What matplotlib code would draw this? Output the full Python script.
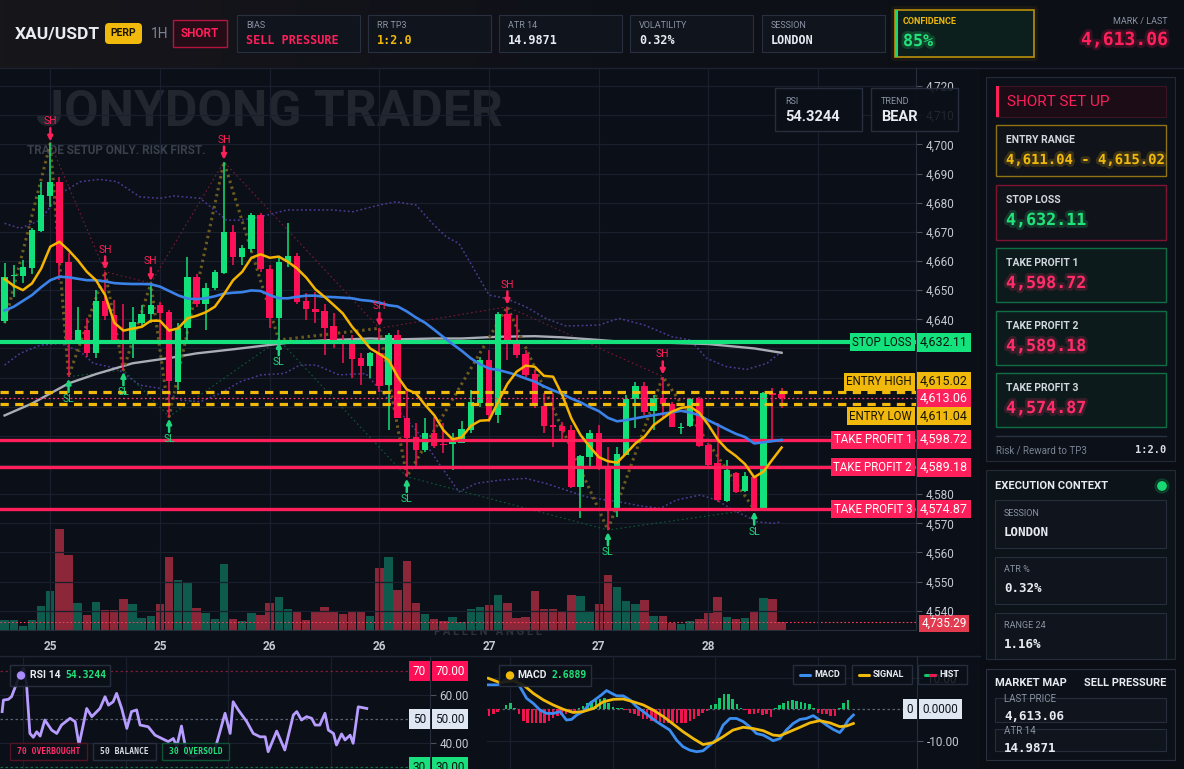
import numpy as np
import matplotlib
matplotlib.use('Agg')
import matplotlib.pyplot as plt
import matplotlib.transforms as mtransforms
import matplotlib.patheffects as pe
from matplotlib.patches import Rectangle, FancyBboxPatch, Circle
from matplotlib.colors import LinearSegmentedColormap

SANS = ['Roboto', 'DejaVu Sans']
MONO = ['DejaVu Sans Mono']
plt.rcParams['font.family'] = SANS

BG = '#0a0d14'
PANEL = '#0b0f17'
GRID = '#191f2c'
EDGE = '#262e3b'
UP = '#12e07a'
DOWN = '#ff0f55'
RED = '#ff1f5a'
YEL = '#f0b90b'
GRN = '#22e27a'
TXT = '#c3c8d2'
DIM = '#8a93a3'
WHITE = '#e8ecf2'

# ---- 1H candles, XAU/USDT ----
opn = [4639.5, 4654.9, 4654.9, 4657.7, 4670.4, 4682.4, 4687.2, 4659.5, 4632.1, 4636.3,
       4628.5, 4646.2, 4641.5, 4632.9, 4632.9, 4638.6, 4641.8, 4644.9, 4642.6, 4618.6,
       4636.9, 4654.6, 4645.4, 4650.6, 4656.0, 4670.0, 4661.5, 4664.0, 4675.8, 4657.4,
       4640.6, 4659.7, 4661.7, 4646.3, 4643.5, 4642.8, 4637.7, 4632.5, 4631.5, 4626.7,
       4624.1, 4628.4, 4617.4, 4634.6, 4606.3, 4599.5, 4595.1, 4600.9, 4597.1, 4597.1,
       4597.6, 4602.0, 4611.4, 4626.0, 4607.1, 4641.8, 4632.3, 4628.1, 4621.2, 4610.3,
       4603.6, 4603.4, 4602.0, 4582.6, 4592.8, 4600.9, 4589.4, 4575.1, 4593.6, 4612.5,
       4617.1, 4608.5, 4613.1, 4611.1, 4602.7, 4603.4, 4612.5, 4596.7, 4590.8, 4577.7,
       4587.4, 4581.2, 4586.0, 4575.1, 4614.6, 4614.2]
high = [4659.2, 4658.6, 4660.3, 4671.2, 4687.2, 4700.3, 4688.9, 4662.6, 4644.3, 4640.3,
        4650.0, 4656.3, 4646.6, 4645.4, 4644.3, 4644.9, 4652.4, 4646.0, 4643.2, 4638.6,
        4661.5, 4655.7, 4652.3, 4656.9, 4694.0, 4672.3, 4665.5, 4676.3, 4676.3, 4658.6,
        4661.5, 4672.9, 4662.6, 4648.9, 4649.4, 4645.1, 4642.0, 4634.6, 4634.6, 4628.3,
        4628.9, 4636.9, 4635.2, 4636.3, 4616.3, 4604.3, 4606.0, 4606.6, 4604.3, 4600.9,
        4605.1, 4615.7, 4627.2, 4629.4, 4642.6, 4644.3, 4641.4, 4629.4, 4622.6, 4614.6,
        4614.6, 4604.9, 4603.7, 4593.4, 4602.0, 4603.7, 4596.3, 4596.3, 4614.0, 4618.6,
        4618.6, 4614.0, 4620.3, 4611.7, 4604.3, 4612.9, 4613.2, 4597.4, 4604.3, 4591.7,
        4587.7, 4587.7, 4586.2, 4615.1, 4616.3, 4616.3]
low = [4638.6, 4647.7, 4652.3, 4655.7, 4670.0, 4678.6, 4653.4, 4620.3, 4631.7, 4627.2,
       4626.6, 4639.7, 4631.7, 4622.6, 4626.6, 4637.4, 4638.6, 4632.9, 4606.6, 4615.7,
       4632.9, 4644.3, 4636.3, 4650.0, 4655.7, 4658.6, 4658.6, 4663.2, 4656.3, 4636.9,
       4632.9, 4658.0, 4645.4, 4639.7, 4638.6, 4627.7, 4630.0, 4624.9, 4619.7, 4617.4,
       4619.7, 4615.1, 4602.0, 4606.0, 4586.0, 4589.4, 4594.6, 4595.7, 4594.0, 4588.3,
       4597.4, 4600.9, 4610.0, 4604.9, 4604.5, 4626.0, 4626.6, 4620.3, 4609.4, 4600.9,
       4596.3, 4598.0, 4582.0, 4571.7, 4589.4, 4588.3, 4567.7, 4572.3, 4593.4, 4602.6,
       4607.1, 4602.0, 4606.6, 4602.9, 4600.6, 4603.1, 4596.3, 4589.6, 4577.4, 4577.2,
       4580.3, 4580.8, 4574.8, 4574.8, 4598.6, 4609.4]
close = [4654.6, 4655.2, 4657.8, 4670.6, 4682.6, 4687.2, 4659.4, 4632.1, 4636.3, 4628.5,
         4646.2, 4641.2, 4632.3, 4632.5, 4639.2, 4641.8, 4644.9, 4642.3, 4618.9, 4636.9,
         4654.6, 4645.4, 4650.6, 4656.3, 4670.0, 4661.5, 4664.3, 4675.8, 4657.4, 4640.6,
         4659.7, 4661.7, 4646.0, 4643.5, 4642.6, 4637.1, 4632.3, 4631.4, 4626.3, 4624.1,
         4628.4, 4617.2, 4634.6, 4606.3, 4599.4, 4595.1, 4600.9, 4596.5, 4596.7, 4597.8,
         4602.2, 4611.5, 4626.0, 4607.1, 4641.8, 4631.7, 4627.7, 4620.9, 4610.3, 4603.4,
         4603.1, 4601.7, 4582.6, 4593.2, 4600.9, 4588.8, 4574.5, 4593.8, 4612.5, 4617.1,
         4608.3, 4613.1, 4611.1, 4603.1, 4603.0, 4612.5, 4596.5, 4590.0, 4578.0, 4588.3,
         4580.8, 4586.2, 4575.1, 4614.6, 4614.0, 4613.06]
vol = [30, 30, 12, 30, 72, 117, 303, 225, 81, 45, 84, 60, 60, 93, 78, 36, 42, 78, 219, 150,
       142, 66, 51, 33, 198, 33, 27, 51, 45, 81, 99, 63, 54, 30, 57, 69, 57, 48, 54, 54,
       42, 186, 219, 120, 207, 81, 48, 33, 27, 39, 24, 63, 69, 75, 105, 81, 36, 39, 117, 63,
       63, 54, 105, 102, 54, 78, 165, 129, 87, 78, 90, 42, 42, 21, 18, 27, 33, 51, 99, 39,
       33, 36, 57, 96, 93, 24]

ema_fast = [4653.8, 4651.5, 4650.0, 4652.3, 4657.4, 4664.9, 4666.6, 4663.7, 4660.3, 4656.3,
            4653.4, 4648.3, 4638.8, 4636.1, 4636.8, 4637.4, 4639.5, 4639.5, 4636.1, 4636.9,
            4640.3, 4641.2, 4642.4, 4644.3, 4648.6, 4653.4, 4656.3, 4661.1, 4662.3, 4661.1,
            4661.5, 4659.7, 4657.4, 4654.3, 4650.3, 4647.7, 4644.9, 4642.0, 4637.5, 4633.8,
            4630.0, 4628.1, 4626.0, 4620.3, 4615.9, 4614.6, 4610.6, 4607.1, 4602.0, 4598.8,
            4599.5, 4603.4, 4605.2, 4605.4, 4611.7, 4617.8, 4622.0, 4624.1, 4623.7, 4620.6,
            4620.3, 4614.0, 4606.0, 4600.3, 4596.3, 4592.7, 4591.3, 4590.8, 4594.0, 4597.4,
            4599.7, 4603.7, 4606.0, 4608.3, 4609.6, 4610.0, 4607.9, 4603.7, 4598.8, 4595.4,
            4593.1, 4590.3, 4585.8, 4587.7, 4591.9, 4596.0]
ema_slow = [4643.0, 4644.3, 4646.3, 4648.3, 4651.0, 4653.4, 4654.6, 4654.4, 4653.9, 4653.4,
            4653.4, 4653.0, 4652.4, 4652.2, 4652.1, 4652.1, 4652.0, 4651.2, 4649.7, 4648.2,
            4647.1, 4646.9, 4647.2, 4647.9, 4648.8, 4649.1, 4649.3, 4649.9, 4649.7, 4648.3,
            4647.2, 4647.2, 4647.7, 4648.1, 4648.1, 4647.7, 4647.6, 4647.4, 4647.2, 4646.6,
            4646.3, 4645.7, 4644.8, 4644.4, 4642.7, 4640.6, 4638.8, 4636.4, 4633.9, 4631.5,
            4629.2, 4626.6, 4624.6, 4623.1, 4622.6, 4621.8, 4620.9, 4619.7, 4618.6, 4617.0,
            4615.6, 4614.4, 4612.8, 4611.5, 4609.9, 4608.5, 4606.2, 4605.0, 4605.4, 4606.0,
            4606.6, 4607.1, 4607.6, 4608.1, 4608.6, 4608.0, 4607.1, 4605.3, 4603.8, 4602.2,
            4600.7, 4599.6, 4597.4, 4597.8, 4598.2, 4598.6]
ma_long_x = [0, 3, 7, 10, 14, 18, 21, 25, 29, 32, 36, 40, 43, 47, 50, 54, 58, 61, 65, 67, 72, 77, 82, 85]
ma_long_v = [4607.0, 4611.1, 4618.0, 4621.2, 4624.9, 4626.7, 4628.3, 4629.7, 4631.2, 4632.3, 4632.9, 4633.4,
             4633.1, 4633.4, 4633.4, 4634.0, 4634.2, 4633.8, 4632.9, 4632.4, 4632.0, 4631.5, 4630.0, 4628.5]
band_up_x = [0, 1.7, 3.9, 6.1, 8.3, 10.4, 12.3, 14.8, 17.0, 18.5, 21.4, 24.3, 25.8, 28.0, 30.9, 32.3,
             35.9, 38.1, 41.0, 42.8, 45.0, 46.8, 48.3, 49.7, 51.2, 53.0, 54.8, 57.0, 59.2, 61.4, 65.0,
             67.2, 70, 73, 75, 76.8, 79, 81.2, 83.4, 85]
band_up_v = [4672.9, 4671.2, 4674.0, 4683.2, 4687.2, 4688.0, 4687.2, 4682.0, 4681.5, 4682.3, 4681.5,
             4674.0, 4674.0, 4675.2, 4677.5, 4677.5, 4677.5, 4676.9, 4679.2, 4680.3, 4679.2, 4672.9,
             4668.3, 4666.0, 4658.0, 4648.3, 4647.2, 4644.3, 4640.3, 4637.7, 4638.0, 4640.3, 4638.0,
             4634.0, 4632.9, 4626.6, 4623.7, 4622.8, 4624.9, 4628.9]
band_lo_x = [0, 1.7, 3.9, 6.1, 8.3, 9.7, 12.3, 14.8, 17.0, 19.2, 21.4, 23.6, 25.8, 28.0, 30.6, 32.3,
             34.1, 36.6, 39.5, 42.4, 45.3, 47.5, 49.7, 51.6, 54.1, 57.0, 59.2, 61.4, 63.6, 65.8, 67.2,
             69.5, 71.7, 73.5, 76.1, 77.9, 79.7, 81.2, 82.3, 84.1, 85]
band_lo_v = [4624.3, 4628.3, 4631.1, 4631.7, 4628.9, 4624.9, 4623.1, 4617.4, 4616.3, 4612.3, 4611.7,
             4614.6, 4618.6, 4620.9, 4621.4, 4624.3, 4624.3, 4620.9, 4621.4, 4611.1, 4600.9, 4590.6,
             4580.8, 4583.7, 4584.8, 4585.4, 4583.7, 4581.4, 4579.1, 4578.0, 4577.4, 4576.0, 4575.1,
             4578.0, 4579.7, 4578.0, 4574.5, 4572.3, 4570.5, 4570.0, 4570.5]

swing_high = [5, 11, 16, 24, 41, 55, 72]
swing_low = [7, 13, 18, 30, 44, 66, 82]

# ---- oscillators ----
rsi_x = [0, 0.3, 1.45, 2.2, 3.4, 4.2, 5.0, 5.7, 6.5, 7.3, 8.1, 8.9, 10.0, 11.6, 12.8, 13.9, 15.9, 17.1,
         18.0, 19.8, 21.0, 22.9, 24.1, 24.9, 26.0, 26.8, 28.0, 29.2, 30.3, 31.5, 32.3, 34.2, 35.8, 37.4,
         38.9, 40.1, 40.9, 42.0, 43.2, 44.8, 46.3, 47.9, 49.9, 51.0, 52.2, 53.4, 54.1, 55.3, 57.3, 58.8,
         60.4, 61.6, 62.3, 64.3, 66.2, 68.2, 69.0, 70.1, 71.3, 72.5, 73.3, 74.4, 75.6, 76.4, 77.6, 78.3,
         79.5, 80.3, 81.5, 82.2, 83.4, 85.4]
rsi_v = [53.1, 57.9, 58.2, 59.3, 64.9, 69.3, 71.1, 64.9, 44.0, 42.4, 44.7, 42.9, 49.6, 45.4, 44.0, 47.5,
         50.3, 48.9, 39.2, 54.4, 51.0, 54.4, 59.3, 55.8, 57.2, 60.7, 54.4, 46.1, 53.1, 53.8, 47.5, 46.8,
         43.3, 41.9, 40.6, 41.9, 38.5, 47.1, 35.7, 34.3, 35.7, 37.1, 37.8, 44.7, 52.4, 44.0, 57.2, 53.8,
         48.9, 44.0, 42.6, 42.6, 36.4, 45.0, 37.1, 51.7, 53.1, 49.6, 51.0, 50.3, 47.5, 47.5, 52.4, 45.4,
         44.0, 39.2, 43.8, 41.3, 43.3, 39.9, 55.1, 54.4]
macd_x = [-0.19, 2.15, 3.71, 5.66, 7.22, 8.79, 10.35, 11.9, 13.5, 15.0, 16.6, 18.1, 19.3, 20.5, 22.0,
          23.6, 25.2, 26.3, 27.5, 28.7, 29.9, 31.4, 33.0, 34.5, 36.1, 37.6, 39.2, 40.8, 42.3, 43.9, 45.4,
          47.0, 48.6, 50.1, 51.7, 53.2, 54.8, 56.4, 57.9, 59.5, 61.0, 62.6, 64.2, 65.7, 66.5, 68.1, 69.6,
          71.2, 72.8, 74.3, 75.9, 77.4, 79.0, 80.6, 82.1, 82.9, 84.1, 85.3]
macd_v = [7.8, 7.8, 9.4, 11.0, 7.2, 3.5, 1.9, -0.2, -1.3, -1.3, -0.7, -3.4, -3.2, -1.8, -0.7, 1.9, 3.5,
          4.6, 6.0, 5.1, 4.3, 4.3, 3.0, 0.9, -0.7, -2.3, -3.9, -5.3, -6.6, -9.8, -11.9, -13.0, -13.5,
          -13.2, -11.4, -9.6, -5.0, -2.9, -2.9, -3.9, -5.5, -7.7, -8.2, -9.3, -10.0, -9.3, -6.6, -4.5,
          -3.2, -2.9, -2.0, -3.4, -5.0, -6.4, -7.4, -6.1, -3.4, -1.8]
signal_x = [-0.19, 2.54, 5.66, 8.0, 10.35, 12.7, 15.0, 17.4, 19.7, 22.0, 24.4, 26.7, 29.1, 31.4, 33.8,
            36.1, 38.4, 40.8, 43.1, 45.4, 47.8, 50.1, 52.5, 54.8, 57.1, 59.5, 61.8, 64.2, 66.5, 68.1,
            70.4, 72.8, 75.1, 77.4, 79.8, 82.1, 83.7, 85.3]
signal_v = [9.9, 8.5, 9.1, 7.8, 5.1, 3.0, 1.4, 0.0, -1.0, -0.7, 0.3, 2.4, 3.2, 3.3, 2.4, 1.4, -0.2, -2.3,
            -4.7, -7.1, -9.3, -11.2, -10.6, -8.7, -6.6, -5.7, -6.1, -6.8, -8.2, -8.4, -7.1, -5.7, -4.3,
            -3.6, -4.3, -5.5, -5.3, -4.5]
hist = [-2.1, -1.6, -0.9, 0.2, 1.3, 2.1, 0.5, -1.6, -3.7, -4.5, -4.3, -4.3, -4.5, -4.3, -3.7, -2.7, -2.1,
        -1.9, -1.6, -1.1, -0.5, 0.3, 1.1, 1.9, 2.7, 3.0, 3.2, 3.7, 2.1, 0.9, 0.5, 0.5, -0.3, -1.1, -1.6,
        -2.1, -3.0, -3.2, -3.7, -3.7, -4.0, -4.3, -4.3, -4.5, -4.5, -4.5, -4.3, -3.7, -3.0, -2.1, -1.3,
        -0.5, 1.3, 1.6, 3.7, 4.8, 4.8, 3.2, 1.6, 0.5, -0.2, -1.6, -1.6, -1.3, -1.9, -1.6, -2.3, 0.5, 1.3,
        2.1, 2.7, 3.0, 2.7, 2.3, 2.1, 1.6, 0.5, -1.1, -1.6, -1.6, -2.1, -2.1, 0.5, 1.9, 3.0]

# ---- trade plan ----
stop_loss = 4632.11
entry_high = 4615.02
entry_low = 4611.04
last_price = 4613.06
take_profit = [4598.72, 4589.18, 4574.87]
last_vol_text = '4,735.29'

day_pos = [5, 17, 29, 41, 53, 65, 77, 89]
day_lab = ['25', '25', '26', '26', '27', '27', '28', '']
sub_grid = [5, 29, 53, 77]
hidden_ticks = [4590, 4600, 4610, 4620, 4630]   # sit under the level tags

top_cards = [('BIAS', 'SELL PRESSURE', RED), ('RR TP3', '1:2.0', YEL), ('ATR 14', '14.9871', WHITE),
             ('VOLATILITY', '0.32%', WHITE), ('SESSION', 'LONDON', WHITE)]
exec_cards = [('SESSION', 'LONDON'), ('ATR %', '0.32%'), ('RANGE 24', '1.16%')]
map_cards = [('LAST PRICE', '4,613.06'), ('ATR 14', '14.9871')]

W, H = 1184, 769
fig = plt.figure(figsize=(W / 100, H / 100), dpi=100, facecolor=BG)


def px_axes(x, y, w, h):
    return fig.add_axes([x / W, 1 - (y + h) / H, w / W, h / H])


def rect(a, x, y, w, h, fc, ec='none', lw=0.8, alpha=1.0, z=1, rnd=0):
    if rnd:
        p = FancyBboxPatch((x, y), w, h, boxstyle=f'round,pad=0,rounding_size={rnd}',
                           fc=fc, ec=ec, lw=lw, alpha=alpha, zorder=z)
    else:
        p = Rectangle((x, y), w, h, fc=fc, ec=ec, lw=lw, alpha=alpha, zorder=z)
    a.add_patch(p)


def txt(a, x, y, s, size, color, weight='normal', family=None, ha='left', va='center', glow=False, z=3):
    t = a.text(x, y, s, fontsize=size, color=color, fontweight=weight, fontfamily=family or SANS,
               ha=ha, va=va, zorder=z)
    if glow:
        t.set_path_effects([pe.withStroke(linewidth=4, foreground=color, alpha=0.18)])
    return t


# ---------- background layer (pixel coordinates) ----------
bg = px_axes(0, 0, W, H)
cm = LinearSegmentedColormap.from_list('tb', ['#17161b', '#0f1118', '#0c0f16'])
bg.imshow(np.linspace(0, 1, 256)[None, :], extent=[0, W, 68, 0], aspect='auto', cmap=cm, zorder=0)
bg.set_xlim(0, W)
bg.set_ylim(H, 0)
bg.set_autoscale_on(False)
bg.axis('off')
rect(bg, 0, 68, 980, 701, PANEL, z=0.5)
bg.plot([0, W], [68, 68], color='#1c2230', lw=1)
bg.plot([0, 980], [656, 656], color='#1f2633', lw=1)

# top bar
txt(bg, 15, 34, 'XAU/USDT', 12.5, WHITE, 'bold')
rect(bg, 105, 23, 37, 21, YEL, rnd=4, z=2)
txt(bg, 123.5, 33.5, 'PERP', 7.5, '#1a1400', 'bold', ha='center')
txt(bg, 151, 34, '1H', 10, '#7c8698')
rect(bg, 173, 20, 54, 27, '#250d17', '#b3153f', lw=1, z=2)
txt(bg, 200, 33.5, 'SHORT', 8.5, RED, 'bold', ha='center')
for k, (lab, val, col) in enumerate(top_cards):
    x0 = [237, 368, 499, 630, 762][k]
    rect(bg, x0, 15, 123, 37, '#0f141d', '#283040', z=2)
    txt(bg, x0 + 9, 26, lab, 6.5, DIM)
    txt(bg, x0 + 9, 41, val, 8.5, col, 'bold', MONO)
rect(bg, 891, 6, 147, 55, YEL, alpha=0.06, z=1, rnd=4)
rect(bg, 895, 10, 139, 47, '#0d1f1c', '#b8900c', lw=1.2, z=2)
rect(bg, 895, 10, 3, 47, '#18d873', z=3)
txt(bg, 903, 22, 'CONFIDENCE', 6.5, YEL, 'bold')
txt(bg, 903, 41, '85%', 12, GRN, 'bold', MONO, glow=True)
txt(bg, 1168, 22, 'MARK / LAST', 6.5, DIM, ha='right')
txt(bg, 1168, 40, f'{last_price:,.2f}', 13, RED, 'bold', MONO, ha='right', glow=True)

# right column: setup panel
rect(bg, 986, 77, 189, 384, '#0c1119', '#232b38', z=1)
rect(bg, 996, 86, 170, 31, '#1c0c16', '#3a1424', z=2)
rect(bg, 996, 86, 3, 31, RED, z=3)
txt(bg, 1007, 101.5, 'SHORT SET UP', 11, RED)
setup_cards = [('ENTRY RANGE', f'{entry_low:,.2f} - {entry_high:,.2f}', YEL, '#8f7212', 125, 51, 10),
               ('STOP LOSS', f'{stop_loss:,.2f}', GRN, '#7d1532', 185, 55, 12)]
for k, tp in enumerate(take_profit):
    setup_cards.append((f'TAKE PROFIT {k + 1}', f'{tp:,.2f}', '#ff2d6a', '#0f6e45', [248, 311, 373][k], 54, 12))
for lab, val, col, ec, y0, h0, fs in setup_cards:
    fc = '#0d1a1b' if lab.startswith('TAKE') else '#10131a'
    rect(bg, 996, y0, 170, h0, fc, ec, lw=1, z=2)
    txt(bg, 1006, y0 + 15, lab, 7.5, '#d3d8e0', 'bold')
    txt(bg, 1006, y0 + 35, val, fs, col, 'bold', MONO, glow=True)
bg.plot([996, 1166], [436, 436], color='#2a3242', lw=1)
txt(bg, 996, 450, 'Risk / Reward to TP3', 7, '#7a8394')
txt(bg, 1166, 450, '1:2.0', 7.5, '#d8dde6', 'bold', MONO, ha='right')

# execution context
rect(bg, 986, 470, 189, 189, '#0d1419', '#232b38', z=1)
txt(bg, 995, 486, 'EXECUTION CONTEXT', 8, WHITE, 'bold')
bg.add_patch(Circle((1162, 486), 4.2, color='#18d873', zorder=3))
bg.add_patch(Circle((1162, 486), 7, color='#18d873', alpha=0.15, zorder=2))
for (lab, val), y0, h0 in zip(exec_cards, [500, 557, 613], [48, 47, 46]):
    rect(bg, 995, y0, 171, h0, '#0f141d', '#262e3b', z=2)
    txt(bg, 1004, y0 + 13, lab, 6.5, DIM)
    txt(bg, 1004, y0 + 32, val, 9, WHITE, 'bold', MONO)

# market map
rect(bg, 986, 669, 189, 91, '#0c1119', '#283040', z=1)
txt(bg, 995, 683, 'MARKET MAP', 8, WHITE, 'bold')
txt(bg, 1166, 683, 'SELL PRESSURE', 8, WHITE, 'bold', ha='right')
for (lab, val), y0, h0 in zip(map_cards, [698, 729], [24, 22]):
    rect(bg, 995, y0, 171, h0, '#0f141d', '#262e3b', z=2)
    txt(bg, 1004, y0 + 1.5, lab, 7, DIM)
    txt(bg, 1004, y0 + 19, val, 9, WHITE, 'bold', MONO)

txt(bg, 488, 632, 'F A L L E N   A N G E L', 8, '#2c313b', 'bold', ha='center')

# ---------- main chart ----------
idx = np.arange(len(close))
o, hi, lo, c = map(np.array, (opn, high, low, close))
up = c >= o
XL = (-0.5, 99.7)

axv = px_axes(0, 68, 916, 562)
axv.set_xlim(*XL)
axv.set_ylim(0, 1686)
axv.axis('off')
axv.text(36, 113, 'JONYDONG TRADER', transform=bg.transData, fontsize=36, fontweight='bold',
         color='#22272f', va='center', ha='left')
axv.text(27, 150, 'TRADE SETUP ONLY. RISK FIRST.', transform=bg.transData, fontsize=8.5,
         fontweight='bold', color='#3a404c', va='center', ha='left')
axv.bar(idx, vol, width=0.92, color=np.where(up, '#0e5a4c', '#8b2738'))
axv.axhline(vol[-1], color='#ff3b57', lw=0.8, ls=(0, (1.5, 2)))
axv.annotate(last_vol_text, xy=(1, vol[-1]),
             xycoords=mtransforms.blended_transform_factory(axv.transAxes, axv.transData),
             xytext=(4, -1), textcoords='offset points', ha='left', va='center', fontsize=8.5, color='white',
             bbox=dict(boxstyle='square,pad=0.2', fc='#e23a4f', ec='none'), annotation_clip=False)

ax = px_axes(0, 68, 916, 562)
ax.patch.set_alpha(0)
ax.set_xlim(*XL)
ax.set_ylim(4533.4, 4726.2)
yt = np.arange(4540, 4721, 10)
ax.set_yticks(yt)
ax.set_yticklabels(['' if v in hidden_ticks else f'{v:,}' for v in yt])
ax.yaxis.tick_right()
ax.tick_params(axis='y', color='#4a5262', labelcolor=TXT, labelsize=8.5, length=4, width=0.8, pad=3)
ax.set_xticks(day_pos)
ax.set_xticklabels(day_lab)
ax.tick_params(axis='x', length=0, pad=7, labelsize=8.5, labelcolor=TXT)
for lab in ax.get_xticklabels():
    lab.set_fontweight('bold')
ax.grid(True, color=GRID, lw=0.9)
ax.set_axisbelow(True)
for s in ['top', 'left']:
    ax.spines[s].set_visible(False)
ax.spines['right'].set_color('#262e3b')
ax.spines['bottom'].set_color('#262e3b')

# overlays
ax.plot(band_up_x, band_up_v, color='#4d3b95', lw=1.1, ls=(0, (1.2, 1.6)), zorder=2)
ax.plot(band_lo_x, band_lo_v, color='#4d3b95', lw=1.1, ls=(0, (1.2, 1.6)), zorder=2)
ax.plot(ma_long_x, ma_long_v, color='#a9adb5', lw=1.7, zorder=2.5)
ax.plot(swing_high, hi[swing_high], color='#7a1a38', lw=0.8, ls=(0, (1.5, 2.5)), zorder=2)
ax.plot(swing_low, lo[swing_low], color='#0e5a3a', lw=0.8, ls=(0, (1.5, 2.5)), zorder=2)
piv = sorted([(0, lo[0])] + [(i, hi[i]) for i in swing_high] + [(i, lo[i]) for i in swing_low])
ax.plot([p[0] for p in piv], [p[1] for p in piv], color='#6b5a20', lw=2.2, ls=(0, (0.8, 1.2)), zorder=2.6)

col = np.where(up, UP, DOWN)
ax.vlines(idx, lo, hi, colors=col, lw=1.1, zorder=4)
ax.bar(idx, np.maximum(np.abs(c - o), 0.45), bottom=np.minimum(o, c), width=0.7, color=col, zorder=5)

ax.axhline(stop_loss, color='#14e27c', lw=3.0, zorder=6)
for tp in take_profit:
    ax.axhline(tp, color=RED, lw=2.4, zorder=6)
ax.axhline(entry_high, color=YEL, lw=2.3, ls=(0, (2.6, 2.0)), zorder=6)
ax.axhline(entry_low, color=YEL, lw=2.3, ls=(0, (2.6, 2.0)), zorder=6)
ax.axhline(last_price, color='#ff3b6b', lw=0.9, ls=(0, (1.5, 2)), zorder=6)

ax.plot(idx, ema_slow, color='#3b82e8', lw=1.9, zorder=7)
ax.plot(idx, ema_fast, color='#f5b400', lw=1.8, zorder=7)

for i in swing_high:
    ax.annotate('', xy=(i, hi[i]), xytext=(0, 11), textcoords='offset points', zorder=8,
                arrowprops=dict(arrowstyle='-|>', color=RED, lw=1.8, shrinkA=0, shrinkB=1.5, mutation_scale=7))
    ax.annotate('SH', xy=(i, hi[i]), xytext=(0, 16), textcoords='offset points', ha='center', va='center',
                fontsize=7.5, color=RED, zorder=8)
for i in swing_low:
    ax.annotate('', xy=(i, lo[i]), xytext=(0, -11), textcoords='offset points', zorder=8,
                arrowprops=dict(arrowstyle='-|>', color='#1ed67e', lw=1.8, shrinkA=0, shrinkB=1.5, mutation_scale=7))
    ax.annotate('SL', xy=(i, lo[i]), xytext=(0, -16), textcoords='offset points', ha='center', va='center',
                fontsize=7.5, color='#1ed67e', zorder=8)

blend = mtransforms.blended_transform_factory(ax.transAxes, ax.transData)


def tag(price, name, fc, tc, dy=0):
    if name:
        ax.annotate(name, xy=(912 / 916, price), xycoords=blend, xytext=(0, dy), textcoords='offset points',
                    ha='right', va='center', fontsize=8.3, color=tc, zorder=10,
                    bbox=dict(boxstyle='square,pad=0.22', fc=fc, ec='none'))
    ax.annotate(f'{price:,.2f}', xy=(1, price), xycoords=blend, xytext=(3, dy), textcoords='offset points',
                ha='left', va='center', fontsize=9, color=tc, zorder=10,
                bbox=dict(boxstyle='square,pad=0.22', fc=fc, ec='none'))


tag(stop_loss, 'STOP LOSS', '#14e27c', '#06140d')
tag(entry_high, 'ENTRY HIGH', YEL, '#1a1400', dy=7.5)
tag(last_price, None, RED, 'white')
tag(entry_low, 'ENTRY LOW', YEL, '#1a1400', dy=-9)
for k, tp in enumerate(take_profit):
    tag(tp, f'TAKE PROFIT {k + 1}', RED, 'white')

# ---------- RSI panel ----------
ar = px_axes(0, 656, 430, 113)
ar.patch.set_alpha(0)
ar.set_xlim(-0.5, 100.2)
ar.set_ylim(29.2, 76.25)
ar.set_yticks([40, 60])
ar.set_yticklabels(['40.00', '60.00'])
ar.yaxis.tick_right()
ar.tick_params(axis='y', color='#4a5262', labelcolor=TXT, labelsize=8.5, length=4, pad=3)
ar.set_xticks(sub_grid)
ar.tick_params(axis='x', length=0, labelbottom=False)
ar.grid(True, color=GRID, lw=0.9)
ar.set_axisbelow(True)
for s in ['top', 'left', 'bottom']:
    ar.spines[s].set_visible(False)
ar.spines['right'].set_color('#262e3b')
ar.axhline(70, color='#7a1a38', lw=0.9, ls=(0, (2, 2)))
ar.axhline(50, color='#5c6473', lw=0.9, ls=(0, (2, 2)))
ar.axhline(30, color='#0f6a45', lw=0.9, ls=(0, (2, 2)))
ar.plot(rsi_x, rsi_v, color='#b79dff', lw=2.0, zorder=4)
rb = mtransforms.blended_transform_factory(ar.transAxes, ar.transData)
for lvl, fc, tc in [(70, '#ff0f55', 'white'), (50, '#dfe7f3', '#10141c'), (30, '#19e07c', '#06140d')]:
    ar.annotate(str(lvl), xy=(426 / 430, lvl), xycoords=rb, ha='right', va='center', fontsize=8.5, color=tc,
                zorder=10, bbox=dict(boxstyle='square,pad=0.3', fc=fc, ec='none'))
    ar.annotate(f'{lvl:.2f}', xy=(1, lvl), xycoords=rb, xytext=(4, 0), textcoords='offset points',
                ha='left', va='center', fontsize=8.5, color=tc, zorder=10,
                bbox=dict(boxstyle='square,pad=0.3', fc=fc, ec='none'))

# ---------- MACD panel ----------
am = px_axes(487, 656, 430, 113)
am.patch.set_alpha(0)
am.set_xlim(-0.5, 100.2)
am.set_ylim(-19, 17)
am.set_yticks([-10, 10])
am.set_yticklabels(['-10.00', '10.00'])
am.yaxis.tick_right()
am.tick_params(axis='y', color='#4a5262', labelcolor=TXT, labelsize=8.5, length=4, pad=3)
am.set_xticks(sub_grid)
am.tick_params(axis='x', length=0, labelbottom=False)
am.grid(True, color=GRID, lw=0.9)
am.set_axisbelow(True)
for s in ['top', 'left', 'bottom']:
    am.spines[s].set_visible(False)
am.spines['right'].set_color('#262e3b')
hv = np.array(hist)
am.bar(np.arange(len(hv)), hv, width=0.6, color=np.where(hv >= 0, '#12c46a', '#ee1650'), zorder=3)
am.axhline(0, color='#5c6473', lw=0.9, ls=(0, (2, 2)), zorder=2)
am.plot(macd_x, macd_v, color='#3b8ef0', lw=2.0, zorder=4)
am.plot(signal_x, signal_v, color=YEL, lw=2.0, zorder=4)
mb = mtransforms.blended_transform_factory(am.transAxes, am.transData)
am.annotate('0', xy=(426 / 430, 0), xycoords=mb, ha='right', va='center', fontsize=8.5, color='#10141c',
            zorder=10, bbox=dict(boxstyle='square,pad=0.3', fc='#dfe7f3', ec='none'))
am.annotate('0.0000', xy=(1, 0), xycoords=mb, xytext=(4, 0), textcoords='offset points', ha='left',
            va='center', fontsize=8.5, color='#10141c', zorder=10,
            bbox=dict(boxstyle='square,pad=0.3', fc='#dfe7f3', ec='none'))

# ---------- overlay boxes ----------
ov = px_axes(0, 0, W, H)
ov.set_xlim(0, W)
ov.set_ylim(H, 0)
ov.set_autoscale_on(False)
ov.axis('off')
for x0, lab, val in [(775, 'RSI', '54.3244'), (871, 'TREND', 'BEAR')]:
    rect(ov, x0, 88, 87, 43, PANEL, '#2a3242', lw=1, alpha=0.88)
    txt(ov, x0 + 10, 101, lab, 6.5, DIM)
    txt(ov, x0 + 10, 117, val, 10.5, WHITE, 'bold')

rect(ov, 10, 665, 100, 21, PANEL, '#2a3242', lw=1, alpha=0.9)
ov.add_patch(Circle((21, 675.5), 3.5, color='#a98cff', zorder=3))
txt(ov, 30, 675.5, 'RSI 14', 7.5, WHITE, 'bold')
txt(ov, 65, 675.5, '54.3244', 7, GRN, 'bold', MONO)
for x0, w0, lab, ec, tc in [(10, 77, '70 OVERBOUGHT', '#5a1428', '#ff2d6a'),
                            (93, 63, '50 BALANCE', '#2a3242', '#d8dde6'),
                            (162, 67, '30 OVERSOLD', '#0e5a38', '#22e27a')]:
    rect(ov, x0, 743, w0, 17, PANEL, ec, lw=1, alpha=0.9)
    txt(ov, x0 + w0 / 2, 751.5, lab, 5.8, tc, 'bold', MONO, ha='center')

rect(ov, 499, 665, 92, 21, PANEL, '#2a3242', lw=1, alpha=0.9)
ov.add_patch(Circle((510, 675.5), 3.5, color=YEL, zorder=3))
txt(ov, 517, 675.5, 'MACD', 7.5, WHITE, 'bold')
txt(ov, 551, 675.5, '2.6889', 7, GRN, 'bold', MONO)
for x0, w0, lab, c1, c2 in [(793, 52, 'MACD', '#3b8ef0', None), (852, 60, 'SIGNAL', YEL, None),
                            (918, 49, 'HIST', '#12c46a', '#ee1650')]:
    rect(ov, x0, 665, w0, 19, PANEL, '#2a3242', lw=1, alpha=0.85)
    ov.plot([x0 + 7, x0 + 17], [674.5, 674.5], color=c1, lw=2.2, solid_capstyle='round', zorder=3)
    if c2:
        ov.plot([x0 + 12, x0 + 17], [674.5, 674.5], color=c2, lw=2.2, solid_capstyle='round', zorder=4)
    txt(ov, x0 + 21, 674.5, lab, 6.5, WHITE, 'bold')

fig.savefig('out.png', dpi=100, facecolor=BG)
